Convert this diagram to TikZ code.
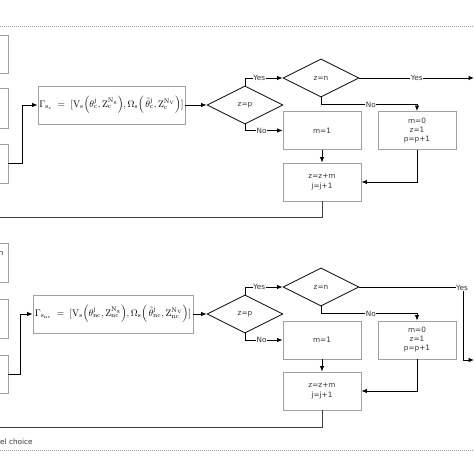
\documentclass[tikz,border=0pt]{standalone}
\usepackage{fontspec}
\setsansfont{DejaVu Sans}
\usetikzlibrary{arrows.meta,shapes.geometric}
\definecolor{boxgray}{HTML}{A0A0A0}
\definecolor{txtgray}{HTML}{333333}
\begin{document}
\begin{tikzpicture}[x=1pt,y=-1pt,
  lbl/.style={font=\sffamily\fontsize{7.3}{8}\selectfont,text=txtgray},
  proc/.style={draw=boxgray,line width=0.8pt,minimum width=78pt,minimum height=38pt,inner sep=1pt,align=center,lbl},
  side/.style={draw=boxgray,line width=0.8pt,minimum width=30pt,inner sep=1pt},
  form/.style={draw=boxgray,line width=0.8pt,minimum height=38pt,inner sep=0pt},
  dec/.style={diamond,draw=black,line width=0.8pt,minimum width=76pt,minimum height=38pt,inner sep=0pt,aspect=2,lbl},
  arr/.style={draw=black,line width=0.9pt,-{Latex[length=5.5pt,width=4.5pt]}},
  ln/.style={draw=black,line width=0.9pt},
  tag/.style={lbl,fill=white,inner sep=0.5pt},
  sep/.style={draw=boxgray,line width=0.6pt,dash pattern=on 1pt off 1pt},
  loop/.style={draw=black!75,line width=1pt}
]
\useasboundingbox (0,0) rectangle (474,474);

% ---------- top block ----------
\draw[sep] (0,26) -- (474,26);
\node[side,minimum height=38pt] (a1) at (-7,54) {};
\node[side,minimum height=40pt] (a2) at (-7,108) {};
\node[side,minimum height=39pt] (a3) at (-7,163.5) {};
\node[form,minimum width=147pt] (g1) at (111.5,105) {\resizebox{144pt}{!}{$\Gamma_{\mathrm{s_c}}\;=\;[\mathrm{V_s}\Big(\theta_{\mathrm{c}}^{\mathrm{j}},\mathrm{Z_c^{N_g}}\Big),\Omega_{\mathrm{s}}\Big(\,\tilde\theta_{\mathrm{c}}^{\mathrm{j}},\mathrm{Z_c^{N_V}}\Big)]$}};
\node[dec] (p1) at (245,105) {z=p};
\node[dec] (n1) at (321,78) {z=n};
\node[proc] (m1) at (322,130.5) {m=1};
\node[proc] (o1) at (417,130.5) {m=0\\[1pt]z=1\\[1pt]p=p+1};
\node[proc] (s1) at (322,182) {z=z+m\\[2pt]j=j+1};
\coordinate (e1) at (474,78);
\coordinate (c1) at (-5,217);

\draw[arr] (a3.east) -- ++(14,0) |- (g1.west);
\draw[arr] (g1.east) -- (p1.west);
\draw[arr] (p1.north) |- node[tag,pos=0.69]{Yes} (n1.west);
\draw[arr] (p1.south) |- node[tag,pos=0.72]{No} (m1.west);
\draw[arr] (n1.east) -- node[tag,pos=0.5]{Yes} (e1);
\draw[arr] (n1.south) -- ++(0,7) -| node[tag,pos=0.26]{No} (o1.north);
\draw[arr] (m1.south) -- (s1.north);
\draw[arr] (o1.south) |- (s1.east);
\draw[loop] (s1.south) |- (c1);

% ---------- bottom block ----------
\node[side,minimum height=39pt] (b1) at (-7,262.5) {};
\node[lbl,anchor=east] (bt) at (7,253) {n};
\node[side,minimum height=39pt] (b2) at (-7,318.5) {};
\node[side,minimum height=38pt] (b3) at (-7,374) {};
\node[form,minimum width=160pt] (g2) at (113,314) {\resizebox{156pt}{!}{$\Gamma_{\mathrm{s_{nc}}}\;=\;[\mathrm{V_s}\Big(\theta_{\mathrm{nc}}^{\mathrm{j}},\mathrm{Z_{nc}^{N_g}}\Big),\Omega_{\mathrm{s}}\Big(\,\tilde\theta_{\mathrm{nc}}^{\mathrm{j}},\mathrm{Z_{nc}^{N_V}}\Big)]$}};
\node[dec] (p2) at (245,314) {z=p};
\node[dec] (n2) at (321,287) {z=n};
\node[proc] (m2) at (322,340) {m=1};
\node[proc] (o2) at (417,340) {m=0\\[1pt]z=1\\[1pt]p=p+1};
\node[proc] (s2) at (322,391) {z=z+m\\[2pt]j=j+1};
\coordinate (k2) at (463,287);
\coordinate (e2) at (474,360);
\coordinate (c2) at (-5,427);

\draw[arr] (b3.east) -- ++(12,0) |- (g2.west);
\draw[arr] (g2.east) -- (p2.west);
\draw[arr] (p2.north) |- node[tag,pos=0.69]{Yes} (n2.west);
\draw[arr] (p2.south) |- node[tag,pos=0.72]{No} (m2.west);
\draw[ln] (n2.east) -- (k2);
\draw[arr] (k2) |- (e2);
\node[tag] (y2) at (462,288) {Yes};
\draw[arr] (n2.south) -- ++(0,7) -| node[tag,pos=0.26]{No} (o2.north);
\draw[arr] (m2.south) -- (s2.north);
\draw[arr] (o2.south) |- (s2.east);
\draw[loop] (s2.south) |- (c2);

\node[lbl,anchor=west,inner sep=0pt,text=black!80] (ch) at (0,442) {el choice};
\draw[sep] (0,450) -- (474,450);
\end{tikzpicture}
\end{document}
